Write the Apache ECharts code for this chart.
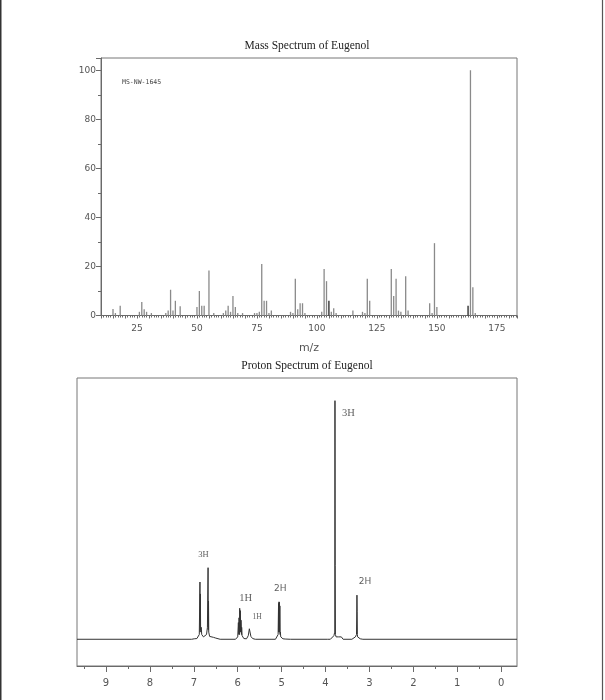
<!DOCTYPE html>
<html><head><meta charset="utf-8">
<script src="https://cdn.jsdelivr.net/npm/echarts@6/dist/echarts.min.js"></script>
<style>html,body{margin:0;padding:0;background:#fff}#c{width:605px;height:700px}</style>
</head><body><div id="c"></div>
<script>
// ---- Mass spectrum data (m/z, relative intensity) ----
var msMz  = [15,16,18,26,27,28,29,31,37,38,39,40,41,43,50,51,52,53,55,57,61,62,63,64,65,66,67,69,74,75,76,77,78,79,80,81,89,90,91,92,93,94,95,102,103,104,105,106,107,108,115,119,120,121,122,131,132,133,134,135,137,138,147,148,149,150,163,164,165,166];
var msInt = [2.7,1,4,1.5,5.5,2.5,1.5,1,1,2,10.5,2,6,3.8,3.5,10,4,4,18.4,1,1,2,4,1.5,8,3.5,1,1,1,1,1.5,21,6,6,1,2,1.5,1,15,2.5,5,5,1,1.5,19,14,6,1.5,3,1,2,1.5,1,15,6,19,8,15,2,1.5,16,2,5,1,29.5,3.5,4,100,11.5,1];
var msDark = [105,163];
var msXTicks = [25,50,75,100,125,150,175];
var msYTicks = [0,20,40,60,80,100];

// ---- Proton NMR data (ppm, intensity) ----
var nmrPpm = [9.66,7.05,7.02,6.99,6.96,6.93,6.90,6.875,6.86,6.855,6.85,6.845,6.83,6.82,6.81,6.78,6.74,6.71,6.69,6.675,6.67,6.665,6.66,6.64,6.60,6.55,6.50,6.46,6.40,
  6.05,6.00,5.985,5.975,5.97,5.96,5.955,5.945,5.94,5.93,5.925,5.915,5.91,5.90,5.89,5.86,5.80,5.76,5.735,5.725,5.70,5.66,5.60,
  5.22,5.18,5.14,5.10,5.08,5.07,5.065,5.06,5.055,5.05,5.045,5.04,5.035,5.03,5.02,5.00,4.97,4.92,4.80,
  3.95,3.92,3.89,3.85,3.81,3.79,3.785,3.78,3.775,3.76,3.73,3.70,3.67,3.64,3.60,
  3.40,3.36,3.32,3.295,3.285,3.28,3.275,3.27,3.25,3.21,3.15,-0.36];
var nmrInt = [0,0,0.8,0.2,0.8,0.3,0.8,2,24,3,19,4,5,2,1.5,1,1.2,2,5,30,4,16,3,1.2,0.6,0.8,0.5,0.6,0,
  0,1,7,2,9,2,13,3,12,3,8,2,5,1.5,0.8,0.3,0.2,1.5,4.4,4.4,1.2,0.3,0,
  0,0.4,0,0.5,2,15,3,15.7,3,15.5,3,14,2,3,1,0.5,0.2,0.1,0,
  0,0.8,0,0.6,1.5,3,100,31,2,1,0.8,1,0.8,1,0,
  0,0.5,1,2,18.5,11.5,2,1,0.5,0.2,0,0];
var nmrLabels = ['3H','1H','1H','2H','3H','2H'];
var nmrLabelPpm = [6.78,5.82,5.56,5.03,3.48,3.10];
var nmrLabelInt = [35.3,17.3,9.2,21.3,94.6,24.1];
var nmrXTicks = [0,1,2,3,4,5,6,7,8,9];

var labelStyles = [
  {fontFamily:'Liberation Serif', fontSize:8.5},
  {fontFamily:'Liberation Serif', fontSize:10.5},
  {fontFamily:'Liberation Serif', fontSize:7.5},
  {fontFamily:'DejaVu Sans', fontSize:9},
  {fontFamily:'Liberation Serif', fontSize:10.5},
  {fontFamily:'DejaVu Sans', fontSize:9}
];

var msData = msMz.map(function(m,i){
  var d = {value:[m, msInt[i]]};
  if (msDark.indexOf(m) >= 0) d.itemStyle = {color:'#222'};
  return d;
});
var nmrData = nmrPpm.map(function(p,i){ return [p, nmrInt[i]]; });
var annData = nmrLabels.map(function(t,i){
  return {value:[nmrLabelPpm[i], nmrLabelInt[i]], name:t,
    label:{show:true, position:'inside', formatter:t, color:'#333',
      fontFamily:labelStyles[i].fontFamily, fontSize:labelStyles[i].fontSize}};
});

var axisGray = '#6a6a6a';
var chart = echarts.init(document.getElementById('c'), null, {renderer:'canvas'});
chart.setOption({
  animation:false,
  backgroundColor:'#fff',
  title:[
    {text:'Mass Spectrum of Eugenol', left:302, top:35, textAlign:'center',
     textStyle:{fontFamily:'Liberation Serif', fontSize:11.5, fontWeight:'normal', color:'#222'}},
    {text:'Proton Spectrum of Eugenol', left:302, top:355, textAlign:'center',
     textStyle:{fontFamily:'Liberation Serif', fontSize:11.5, fontWeight:'normal', color:'#222'}},
    {text:'MS-NW-1645', left:117, top:74,
     textStyle:{fontFamily:'DejaVu Sans Mono', fontSize:6.5, fontWeight:'normal', color:'#444'}}
  ],
  graphic:[
    {type:'line', shape:{x1:0.75,y1:0,x2:0.75,y2:700}, style:{stroke:'#333', lineWidth:1.5}},
    {type:'line', shape:{x1:602.5,y1:0,x2:602.5,y2:700}, style:{stroke:'#555', lineWidth:1.2}}
  ],
  grid:[
    {left:101, right:88, top:58, bottom:384.5, show:true, borderColor:'#777', borderWidth:1, backgroundColor:'transparent'},
    {left:77, right:88, top:378, bottom:34, show:true, borderColor:'#777', borderWidth:1, backgroundColor:'transparent'}
  ],
  xAxis:[
    {gridIndex:0, type:'value', min:10, max:183.4, interval:5,
     name:'m/z', nameLocation:'middle', nameGap:27,
     nameTextStyle:{fontFamily:'DejaVu Sans', fontSize:11, color:'#555'},
     axisLine:{show:true, onZero:false, lineStyle:{color:axisGray}},
     axisTick:{show:true, length:3, lineStyle:{color:axisGray}},
     minorTick:{show:true, splitNumber:5, length:2, lineStyle:{color:axisGray}},
     axisLabel:{fontFamily:'DejaVu Sans', fontSize:9, color:'#555', margin:9,
       showMinLabel:true, showMaxLabel:true,
       formatter:function(v){ return msXTicks.indexOf(Math.round(v*100)/100) >= 0 ? String(v) : ''; }},
     splitLine:{show:false}},
    {gridIndex:1, type:'value', inverse:true, min:-0.36, max:9.66, splitNumber:10,
     axisLine:{show:true, onZero:false, lineStyle:{color:axisGray}},
     axisTick:{show:true, length:6, customValues:nmrXTicks, lineStyle:{color:axisGray}},
     minorTick:{show:true, splitNumber:2, length:3, lineStyle:{color:axisGray}},
     axisLabel:{fontFamily:'DejaVu Sans', fontSize:10, color:'#555', margin:12, customValues:nmrXTicks,
       formatter:function(v){ return nmrXTicks.indexOf(v) >= 0 ? String(v) : ''; }},
     splitLine:{show:false}}
  ],
  yAxis:[
    {gridIndex:0, type:'value', min:0, max:105, interval:20,
     axisLine:{show:true, lineStyle:{color:axisGray}},
     axisTick:{show:true, length:5, lineStyle:{color:axisGray}},
     minorTick:{show:true, splitNumber:2, length:3, lineStyle:{color:axisGray}},
     axisLabel:{fontFamily:'DejaVu Sans', fontSize:9, color:'#555', margin:5,
       formatter:function(v){ return msYTicks.indexOf(v) >= 0 ? String(v) : ''; }},
     splitLine:{show:false}},
    {gridIndex:1, type:'value', min:-11.2, max:109.5, show:false, splitLine:{show:false}}
  ],
  series:[
    {type:'bar', xAxisIndex:0, yAxisIndex:0, data:msData, barWidth:1.3,
     itemStyle:{color:'#8a8a8a'}, silent:true},
    {type:'line', xAxisIndex:1, yAxisIndex:1, data:nmrData, showSymbol:false, symbol:'none',
     lineStyle:{color:'#333', width:1}, silent:true},
    {type:'scatter', xAxisIndex:1, yAxisIndex:1, data:annData, symbolSize:0, silent:true}
  ]
});
</script>
</body></html>
